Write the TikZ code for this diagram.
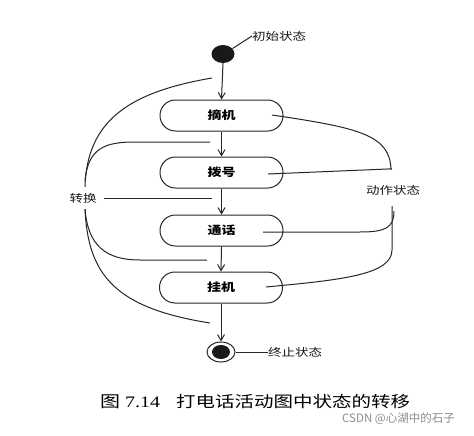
\documentclass[tikz,border=0pt]{standalone}
\usepackage{fontspec}
\setmainfont{Liberation Serif}
\newfontfamily\cjk{Noto Sans CJK SC}
\usetikzlibrary{arrows.meta,shapes.geometric}
\newcommand{\vsq}[1]{\scalebox{1}[0.8]{#1}}
\begin{document}
\begin{tikzpicture}[x=1pt,y=-1pt,
  ln/.style={line width=1pt,draw=black!85},
  arr/.style={ln,-{Straight Barb[length=6pt,width=7pt]}},
  statebox/.style={draw=black!85,line width=1pt,rounded corners=15.4pt,minimum width=123pt,minimum height=31pt,inner sep=0pt,font=\cjk\fontsize{14}{14}\selectfont\bfseries},
  lbl/.style={font=\cjk\fontsize{13.5}{14}\selectfont,inner sep=0pt,text=black!90}
]
\fill[white] (0,0) rectangle (474,436);
\useasboundingbox (0,0) rectangle (474,436);

% start / end
\node[ellipse,fill=black!90,minimum width=23pt,minimum height=18pt,inner sep=0pt] (init) at (223,54) {};
\node[lbl,anchor=west] (initlbl) at (252,36) {\vsq{初始状态}};
\draw[ln] (init.30) -- (initlbl.west);

\node[ellipse,draw=black!85,line width=1pt,minimum width=28pt,minimum height=20pt,inner sep=0pt] (final) at (221,352) {};
\node[ellipse,fill=black!90,minimum width=18pt,minimum height=14pt,inner sep=0pt] (finalin) at (221,352) {};
\node[lbl,anchor=west] (finlbl) at (268,352) {\vsq{终止状态}};
\draw[ln] (final.east) -- (finlbl.west);

% states
\node[statebox] (s1) at (221.5,115.5) {\vsq{摘机}};
\node[statebox] (s2) at (221.5,172.5) {\vsq{拨号}};
\node[statebox] (s3) at (221.5,230.5) {\vsq{通话}};
\node[statebox] (s4) at (221,287.5) {\vsq{挂机}};

\draw[arr] (init.south) -- (s1.north);
\draw[arr] (s1.south) -- (s2.north);
\draw[arr] (s2.south) -- (s3.north);
\draw[arr] (s3.south) -- (s4.north);
\draw[arr] (s4.south) -- (final.north);

% left labels
\node[lbl] (conv) at (83,198) {\vsq{转换}};
\coordinate (l1) at (212,78);
\coordinate (l2) at (210,142);
\coordinate (l3) at (212,198);
\coordinate (l4) at (207,260);
\coordinate (l5) at (210,323);
\draw[ln] (conv.north)++(2,-6) .. controls (87,120) and (130,92) .. (l1);
\draw[ln] (conv.north)++(2,-12) .. controls (88,148) and (105,142) .. (135,142) -- (l2);
\draw[ln] (conv.east)++(7,0) -- (l3);
\draw[ln] (conv.south)++(2,6) .. controls (88,245) and (105,260) .. (140,260) -- (l4);
\draw[ln] (conv.south)++(2,6) .. controls (88,275) and (115,308) .. (l5);

% right labels
\node[lbl] (act) at (393,190) {\vsq{动作状态}};
\coordinate (r1) at (272,115);
\coordinate (r2) at (268,174);
\coordinate (r3) at (263,232);
\coordinate (r4) at (266,287);
\draw[ln] (act.north)++(-2,-15) .. controls (390,135) and (360,128) .. (r1);
\draw[ln] (act.north)++(-1,-16) -- (r2);
\draw[ln] (act.south)++(1,16) .. controls (394,228) and (385,232) .. (360,232) -- (r3);
\draw[ln] (act.south)++(-1,11) -- (392,250) .. controls (392,275) and (340,280) .. (r4);

% caption
\node[anchor=west,inner sep=0pt,font=\fontsize{20}{20}\selectfont] (cap1) at (100,402) {\vsq{{\cjk 图} 7.14}};
\node[anchor=west,inner sep=0pt,font=\cjk\fontsize{19.5}{20}\selectfont] (cap2) at (176,402) {\vsq{打电话活动图中状态的转移}};
\node[anchor=west,inner sep=0pt,font=\cjk\fontsize{11.5}{12}\selectfont,text=black!45] (wm) at (342,419) {CSDN @心湖中的石子};
\end{tikzpicture}
\end{document}
